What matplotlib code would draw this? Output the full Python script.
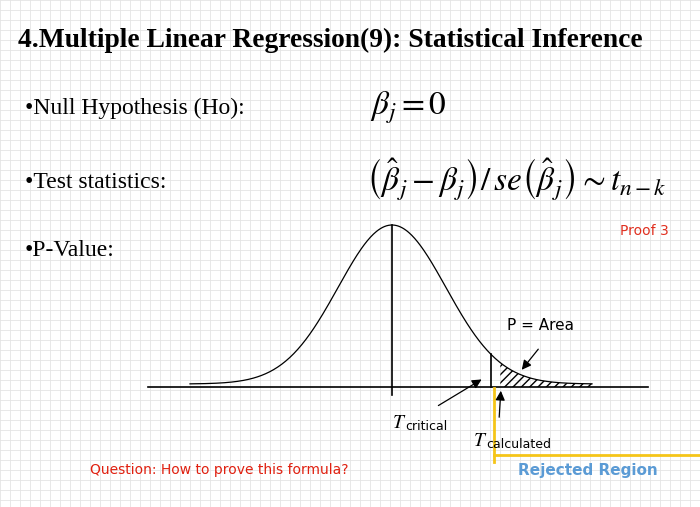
import numpy as np
import matplotlib.pyplot as plt
from matplotlib.patches import Polygon

plt.rcParams["mathtext.fontset"] = "stix"

# slide content
title = "4.Multiple Linear Regression(9): Statistical Inference"
bullets = ["•Null Hypothesis (Ho):", "•Test statistics:", "•P-Value:"]
bullet_y = [108, 182, 250]
formulas = [r"$\beta_j = 0$",
            r"$\left(\hat{\beta}_j - \beta_j\right) / \, se\left(\hat{\beta}_j\right) \sim t_{n-k}$"]

# bell curve (pixel coords of slide)
center, peak_y, base_y, sigma = 392, 225, 387, 54
t_crit, t_calc = 491, 500

fig = plt.figure(figsize=(7, 5.07), dpi=100)
ax = fig.add_axes([0, 0, 1, 1])
ax.set_xlim(0, 700)
ax.set_ylim(507, 0)
ax.axis("off")

# grid paper background
for g in range(0, 701, 10):
    ax.axvline(g, color="#e4e4e4", lw=0.6, zorder=0)
for g in range(0, 508, 10):
    ax.axhline(g, color="#e4e4e4", lw=0.6, zorder=0)

ax.text(18, 40, title, fontsize=19.8, fontweight="bold", family="Liberation Serif", va="center")
for b, y in zip(bullets, bullet_y):
    ax.text(25, y, b, fontsize=17, family="Liberation Serif", va="center")
ax.text(370, 108, formulas[0], fontsize=24, va="center")
ax.text(366, 180, formulas[1], fontsize=24, va="center")
ax.text(620, 231, "Proof 3", fontsize=10, color="#e03020", va="center")

x = np.linspace(190, 592, 400)
y = base_y - 3 - (base_y - 3 - peak_y) * np.exp(-(x - center) ** 2 / (2 * sigma ** 2))
ax.plot(x, y, color="black", lw=0.9)
ax.plot([148, 648], [base_y, base_y], color="black", lw=1.2)
ax.plot([center, center], [peak_y, 395], color="black", lw=1.2)
yc = np.interp(t_crit, x, y)
ax.plot([t_crit, t_crit], [yc, base_y], color="black", lw=1.2)

m = x >= t_calc
poly = np.column_stack([np.r_[x[m], x[m][::-1]], np.r_[y[m], np.full(m.sum(), base_y)]])
ax.add_patch(Polygon(poly, closed=True, fill=False, hatch="////", lw=0, edgecolor="black"))

ax.text(507, 325, "P = Area", fontsize=11, family="DejaVu Sans", va="center")
ax.annotate("", xy=(520, 372), xytext=(540, 347),
            arrowprops=dict(arrowstyle="-|>", color="black", lw=0.9, mutation_scale=14))
ax.annotate("", xy=(484, 378), xytext=(436, 407),
            arrowprops=dict(arrowstyle="-|>", color="black", lw=0.9, mutation_scale=14))
ax.annotate("", xy=(501, 388), xytext=(499, 420),
            arrowprops=dict(arrowstyle="-|>", color="black", lw=0.9, mutation_scale=14))
ax.text(392, 423, r"$T$", fontsize=14, va="center")
ax.text(405, 427, "critical", fontsize=9, va="center")
ax.text(473, 440, r"$T$", fontsize=14, va="center")
ax.text(486, 444, "calculated", fontsize=9, va="center")

ax.plot([494, 494], [388, 462], color="#f5c518", lw=2)
ax.plot([494, 700], [455, 455], color="#f5c518", lw=2)
ax.text(518, 470, "Rejected Region", fontsize=11, fontweight="bold", color="#5b9bd5", va="center")
ax.text(90, 470, "Question: How to prove this formula?", fontsize=10, color="#e02010", va="center")

fig.savefig("out.png", dpi=100)
